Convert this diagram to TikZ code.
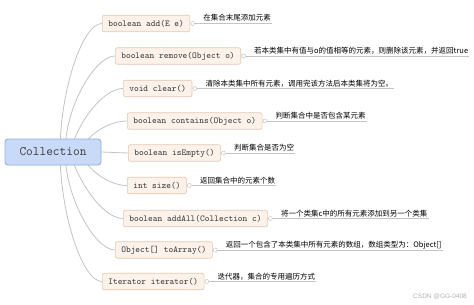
\documentclass[tikz,border=0pt]{standalone}
\usepackage{fontspec}
\newfontfamily\cjk{Noto Sans CJK SC}
\newfontfamily\wmfont{Liberation Sans}
\usetikzlibrary{backgrounds}
\pgfdeclarelayer{bottom}
\pgfsetlayers{bottom,background,main}
\definecolor{boxfill}{HTML}{FDF2EA}
\definecolor{boxdraw}{HTML}{E2C8B4}
\definecolor{rootfill}{HTML}{C8DAF8}
\definecolor{rootdraw}{HTML}{8FAEDC}
\definecolor{linecol}{HTML}{C4C4C4}
\definecolor{txt}{HTML}{3A3A3A}
\begin{document}
\begin{tikzpicture}[x=1pt,y=-1pt,
  rootbox/.style={draw=rootdraw, fill=rootfill, rounded corners=3pt, line width=0.8pt,
    font=\ttfamily\fontsize{13}{13}\selectfont, text=txt, minimum width=96pt, minimum height=26pt, inner sep=0pt},
  method/.style={draw=boxdraw, fill=boxfill, rounded corners=2pt, line width=0.6pt,
    font=\ttfamily\fontsize{9}{9}\selectfont, text=txt, minimum height=16.5pt, inner xsep=6pt, inner ysep=0pt, anchor=west},
  knob/.style={circle, draw=linecol, fill=white, inner sep=0pt, minimum size=4pt, line width=0.5pt},
  note/.style={font=\cjk\fontsize{7.5}{7.5}\selectfont, inner xsep=1pt, inner ysep=0pt, anchor=base west, text=black},
  branch/.style={draw=linecol, line width=0.8pt},
  underline/.style={draw=linecol, line width=0.6pt},
]
\begin{pgfonlayer}{bottom}
  \fill[white] (0,0) rectangle (474,305);
\end{pgfonlayer}
\useasboundingbox (0,0) rectangle (474,305);

\node[rootbox] (root) at (53,152) {Collection};

\node[method] (m1) at (102,23.5) {boolean add(E e)};
\node[method] (m2) at (115,56) {boolean remove(Object o)};
\node[method] (m3) at (123,88.5) {void clear()};
\node[method] (m4) at (127,121) {boolean contains(Object o)};
\node[method] (m5) at (128,153) {boolean isEmpty()};
\node[method] (m6) at (127,185.5) {int size()};
\node[method] (m7) at (123,218.5) {boolean addAll(Collection c)};
\node[method] (m8) at (115,250) {Object[] toArray()};
\node[method] (m9) at (102,281.5) {Iterator iterator()};

\foreach \i in {1,...,9} {
  \node[knob] (k\i) at ([xshift=2.5pt]m\i.east) {};
}

\node[note] (n1) at ([xshift=12pt,yshift=2.5pt]m1.east) {在集合末尾添加元素};
\node[note] (n2) at ([xshift=12pt,yshift=2.5pt]m2.east) {若本类集中有值与o的值相等的元素，则删除该元素，并返回true};
\node[note] (n3) at ([xshift=12pt,yshift=2.5pt]m3.east) {清除本类集中所有元素，调用完该方法后本类集将为空。};
\node[note] (n4) at ([xshift=12pt,yshift=2.5pt]m4.east) {判断集合中是否包含某元素};
\node[note] (n5) at ([xshift=12pt,yshift=2.5pt]m5.east) {判断集合是否为空};
\node[note] (n6) at ([xshift=12pt,yshift=2.5pt]m6.east) {返回集合中的元素个数};
\node[note] (n7) at ([xshift=12pt,yshift=2.5pt]m7.east) {将一个类集c中的所有元素添加到另一个类集};
\node[note] (n8) at ([xshift=12pt,yshift=2.5pt]m8.east) {返回一个包含了本类集中所有元素的数组，数组类型为：Object[]};
\node[note] (n9) at ([xshift=12pt,yshift=2.5pt]m9.east) {迭代器，集合的专用遍历方式};

\node[font=\wmfont\fontsize{6.5}{6.5}\selectfont, text=black!30, inner sep=0pt] (wm) at (440,297) {CSDN @GG-0408};

\begin{scope}[on background layer]
  \foreach \i in {1,...,9} {
    \draw[underline] (k\i.east) -- (k\i.east -| n\i.east);
  }
  \coordinate (s1) at ([xshift=7pt]root.center);
  \coordinate (s2) at ([xshift=12pt]root.center);
  \coordinate (s3) at ([xshift=17pt]root.center);
  \coordinate (s4) at ([xshift=27pt]root.center);
  \draw[branch] (s1) .. controls +(0,-60) and +(-20,0) .. (m1.west);
  \draw[branch] (s2) .. controls +(0,-45) and +(-20,0) .. (m2.west);
  \draw[branch] (s3) .. controls +(8,-30) and +(-20,0) .. (m3.west);
  \draw[branch] (s4) .. controls +(5,-15) and +(-20,0) .. (m4.west);
  \draw[branch] (root.east) -- (m5.west);
  \draw[branch] (s4) .. controls +(5,15) and +(-20,0) .. (m6.west);
  \draw[branch] (s3) .. controls +(8,30) and +(-20,0) .. (m7.west);
  \draw[branch] (s2) .. controls +(0,45) and +(-20,0) .. (m8.west);
  \draw[branch] (s1) .. controls +(0,60) and +(-20,0) .. (m9.west);
\end{scope}
\end{tikzpicture}
\end{document}
